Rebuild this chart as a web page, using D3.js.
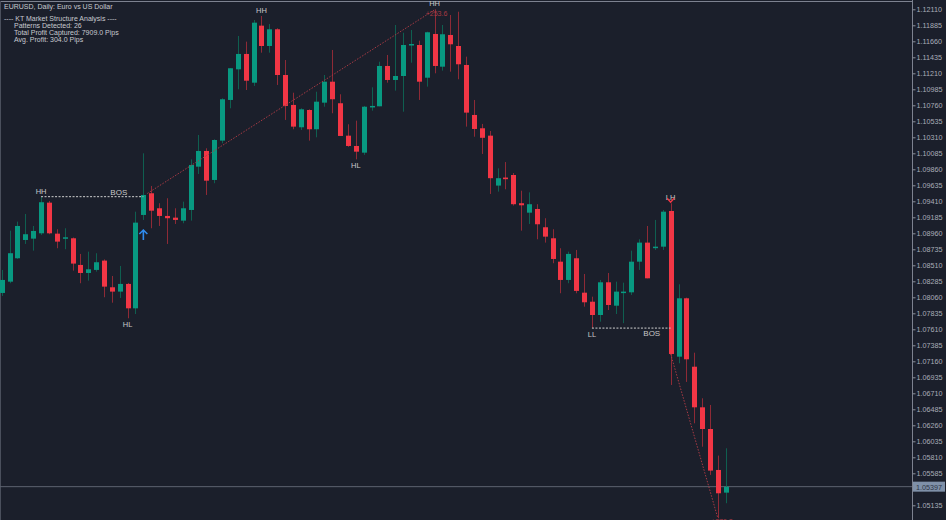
<!DOCTYPE html>
<html><head><meta charset="utf-8">
<script src="https://cdn.jsdelivr.net/npm/d3@7/dist/d3.min.js"></script>
<style>html,body{margin:0;padding:0;background:#1b1f2b;overflow:hidden}</style>
</head><body><svg id="c" width="946" height="520"></svg>
<script>
const opens=[1.08121,1.0828,1.08609,1.08866,1.08885,1.0896,1.09391,1.08955,1.08885,1.0889,1.08515,1.08402,1.08445,1.08576,1.08201,1.0814,1.08248,1.07905,1.09218,1.09523,1.09312,1.09204,1.0918,1.09138,1.09288,1.09897,1.10118,1.0971,1.10263,1.10835,1.11266,1.11482,1.11078,1.1188,1.11594,1.11829,1.11186,1.10765,1.10451,1.10694,1.10423,1.10797,1.11092,1.10789,1.10333,1.10188,1.10094,1.10732,1.10746,1.11313,1.11116,1.11172,1.11608,1.11608,1.11148,1.11763,1.11303,1.11749,1.11594,1.11327,1.10624,1.10437,1.10333,1.09631,1.09744,1.0978,1.09383,1.0925,1.09302,1.09045,1.0889,1.08561,1.08304,1.08609,1.08125,1.07998,1.07811,1.08271,1.07942,1.0813,1.0813,1.08561,1.08829,1.08764,1.08772,1.09274,1.07225,1.08046,1.07084,1.06513,1.06208,1.05632,1.05313];
const highs=[1.08445,1.08997,1.09124,1.09232,1.09063,1.09475,1.09415,1.09017,1.09031,1.08901,1.0867,1.08702,1.0868,1.08593,1.0836,1.08501,1.08262,1.09264,1.10085,1.09626,1.09383,1.09453,1.09312,1.09405,1.1,1.10343,1.10156,1.10282,1.10859,1.11281,1.11735,1.11655,1.1196,1.12016,1.11903,1.11843,1.11397,1.10937,1.10718,1.10704,1.10951,1.11186,1.11538,1.10915,1.10493,1.10544,1.10751,1.11013,1.11373,1.11468,1.11889,1.11781,1.11819,1.11669,1.11795,1.1211,1.11889,1.1203,1.12076,1.11444,1.10835,1.10498,1.10399,1.09874,1.09962,1.09808,1.09559,1.09536,1.09369,1.09172,1.09017,1.0875,1.08702,1.08726,1.08388,1.08069,1.08304,1.08402,1.0828,1.08266,1.08716,1.08876,1.09063,1.09148,1.09288,1.09382,1.08243,1.08055,1.07281,1.0664,1.06546,1.05834,1.05937];
const lows=[1.08079,1.08258,1.08599,1.0881,1.08716,1.08937,1.08947,1.0875,1.08736,1.08435,1.08258,1.08294,1.08421,1.08061,1.07984,1.08051,1.07765,1.07825,1.09148,1.09031,1.09063,1.0881,1.09091,1.09101,1.09138,1.09794,1.09499,1.09664,1.10226,1.10718,1.10985,1.10975,1.11032,1.115,1.115,1.11046,1.10554,1.10423,1.10413,1.10263,1.1031,1.1074,1.10648,1.10329,1.10176,1.1,1.10062,1.10684,1.10746,1.11078,1.10966,1.1067,1.11359,1.10835,1.11022,1.1121,1.11247,1.11233,1.11126,1.1046,1.10318,1.10076,1.09513,1.09546,1.09579,1.0935,1.08997,1.09091,1.08876,1.08829,1.08539,1.08117,1.08258,1.08117,1.07928,1.07627,1.07717,1.07881,1.07825,1.07696,1.08093,1.08445,1.08327,1.08726,1.08726,1.06827,1.07132,1.0687,1.06288,1.05959,1.05562,1.04953,1.05164];
const closes=[1.08304,1.0868,1.09063,1.08947,1.08993,1.09397,1.0896,1.08843,1.08904,1.08534,1.08402,1.08454,1.08553,1.0821,1.0814,1.08248,1.07905,1.0911,1.09499,1.09278,1.09204,1.09172,1.09148,1.09312,1.09921,1.10118,1.097,1.10272,1.10845,1.11281,1.11482,1.11106,1.11922,1.11594,1.11829,1.11186,1.10751,1.1046,1.10704,1.10423,1.10811,1.11092,1.10845,1.10329,1.10188,1.10108,1.1074,1.10751,1.11313,1.11116,1.11172,1.11608,1.11622,1.11092,1.11787,1.11313,1.11759,1.11618,1.11337,1.10657,1.10427,1.10303,1.09735,1.09735,1.09721,1.09369,1.09354,1.09369,1.09087,1.08913,1.08599,1.08304,1.0867,1.0815,1.0799,1.07811,1.08271,1.07952,1.0814,1.0814,1.08561,1.08829,1.08327,1.08772,1.09264,1.07263,1.08046,1.07188,1.06513,1.06208,1.05623,1.05304,1.05397];
const tickLabels=["1.12110","1.11885","1.11660","1.11435","1.11210","1.10985","1.10760","1.10535","1.10310","1.10085","1.09860","1.09635","1.09410","1.09185","1.08960","1.08735","1.08510","1.08285","1.08060","1.07835","1.07610","1.07385","1.07160","1.06935","1.06710","1.06485","1.06260","1.06035","1.05810","1.05585","1.05135"];
const structLabels=[{i:5,t:"HH",at:"high"},{i:16,t:"HL",at:"low"},{i:33,t:"HH",at:"high"},{i:45,t:"HL",at:"low"},{i:55,t:"HH",at:"high"},{i:75,t:"LL",at:"low"},{i:85,t:"LH",at:"high"}];
const bosLines=[{from:5,to:18,price:1.09475},{from:75,to:85,price:1.07627}];
const profitLines=[{from:18.5,p1:1.0952,to:55,p2:1.12103,label:"+253.6"},{from:85,p1:1.07263,to:91,p2:1.04953,label:"+370.2"}];
const lastPrice=1.05397, lastLabel="1.05397";

const svg=d3.select("#c");
const W=946,H=520,axisX=912;
const x=d3.scaleLinear().domain([0,92]).range([1.7,1.7+7.87*92]);
const y=d3.scaleLinear().domain([1.12110,1.05135]).range([9.3,505.3]);
const GREEN="#089981",RED="#f23645",GW="#0f5f50",RW="#8e2a36";
svg.append("rect").attr("width",W).attr("height",H).attr("fill","#1b1f2b");
svg.append("line").attr("x1",0).attr("x2",axisX).attr("y1",1.5).attr("y2",1.5).attr("stroke","#7d8290");
svg.append("line").attr("x1",0.5).attr("x2",0.5).attr("y1",1).attr("y2",H).attr("stroke","#4a4f5c");
svg.append("line").attr("x1",axisX+0.5).attr("x2",axisX+0.5).attr("y1",0).attr("y2",H).attr("stroke","#7d8290");
const ax=svg.append("g").attr("transform",`translate(${axisX+0.5},0)`)
 .call(d3.axisRight(y).tickValues(tickLabels.map(Number)).tickFormat((d,i)=>tickLabels[i]).tickSize(3).tickSizeOuter(0));
ax.select(".domain").remove();
ax.selectAll("line").attr("stroke","#8a8f9c");
ax.selectAll("text").attr("fill","#a9adb8").attr("font-family","Liberation Sans, Arial").attr("font-size",7.2).attr("x",4);
svg.append("line").attr("x1",0).attr("x2",axisX).attr("y1",y(lastPrice)).attr("y2",y(lastPrice)).attr("stroke","#5d6370").attr("stroke-width",1);
const idx=d3.range(opens.length);
const g=svg.append("g");
g.selectAll("line.w").data(idx).join("line").attr("x1",i=>Math.round(x(i))+0.5).attr("x2",i=>Math.round(x(i))+0.5)
 .attr("y1",i=>y(highs[i])).attr("y2",i=>y(lows[i])).attr("stroke",i=>closes[i]>=opens[i]?GW:RW).attr("stroke-width",1);
g.selectAll("rect.b").data(idx).join("rect").attr("x",i=>Math.round(x(i))-2).attr("width",5)
 .attr("y",i=>y(Math.max(opens[i],closes[i]))).attr("height",i=>Math.max(1.5,Math.abs(y(opens[i])-y(closes[i]))))
 .attr("fill",i=>closes[i]>=opens[i]?GREEN:RED);
const font="Liberation Sans, Arial";
bosLines.forEach(b=>{
 svg.append("line").attr("x1",x(b.from)).attr("x2",x(b.to)).attr("y1",y(b.price)).attr("y2",y(b.price)).attr("stroke","#d0d0d0").attr("stroke-dasharray","2,1.5").attr("stroke-width",1);
 const mx=x(b.from)+(x(b.to)-x(b.from))*0.76;
 const up=b.from===5;
 svg.append("text").attr("x",mx).attr("y",up?y(b.price)-2:y(b.price)+7.5).attr("text-anchor","middle").attr("fill","#c8c8c8").attr("font-family",font).attr("font-size",8).text("BOS");
});
profitLines.forEach(p=>{
 svg.append("line").attr("x1",x(p.from)).attr("x2",x(p.to)).attr("y1",y(p.p1)).attr("y2",y(p.p2)).attr("stroke","#a83a44").attr("stroke-dasharray","1.5,1.5").attr("stroke-width",1);
});
svg.append("text").attr("x",x(55)+2).attr("y",y(1.12110)+7).attr("text-anchor","middle").attr("fill","#a83a44").attr("font-family",font).attr("font-size",7).text(profitLines[0].label);
svg.append("text").attr("x",x(91)+4).attr("y",y(1.04953)+6).attr("text-anchor","middle").attr("fill","#a83a44").attr("font-family",font).attr("font-size",7).text(profitLines[1].label);
structLabels.forEach(s=>{
 const py=s.at==="high"?y(highs[s.i])-3:y(lows[s.i])+9;
 svg.append("text").attr("x",x(s.i)).attr("y",s.i===55?6:py).attr("text-anchor","middle").attr("fill","#c8c8c8").attr("font-family",font).attr("font-size",7.5).text(s.t);
});
const ax18=x(18),ay=y(1.0895);
svg.append("path").attr("d",`M${ax18},${ay-4} L${ax18},${ay+6} M${ax18-4},${ay} L${ax18},${ay-4} L${ax18+4},${ay}`).attr("stroke","#2f8cf0").attr("stroke-width",1.6).attr("fill","none");
const cx=x(85),cy=y(highs[85])-1;
svg.append("path").attr("d",`M${cx-3.5},${cy-4} L${cx},${cy} L${cx+3.5},${cy-4}`).attr("stroke",RED).attr("stroke-width",1.4).attr("fill","none");
svg.append("rect").attr("x",axisX+1).attr("y",y(lastPrice)-5).attr("width",32).attr("height",10).attr("fill","#7f90a8");
svg.append("text").attr("x",axisX+4).attr("y",y(lastPrice)+3).attr("fill","#2c3445").attr("font-family",font).attr("font-size",7.2).text(lastLabel);
const hdr=[[4,9,"EURUSD, Daily:  Euro vs US Dollar"],[4,21,"---- KT Market Structure Analysis ----"],[14,28,"Patterns Detected: 26"],[14,35,"Total Profit Captured: 7909.0 Pips"],[14,42,"Avg. Profit: 304.0 Pips"]];
hdr.forEach(h=>svg.append("text").attr("x",h[0]).attr("y",h[1]).attr("fill","#c8cad0").attr("font-family",font).attr("font-size",7).text(h[2]));
</script></body></html>
